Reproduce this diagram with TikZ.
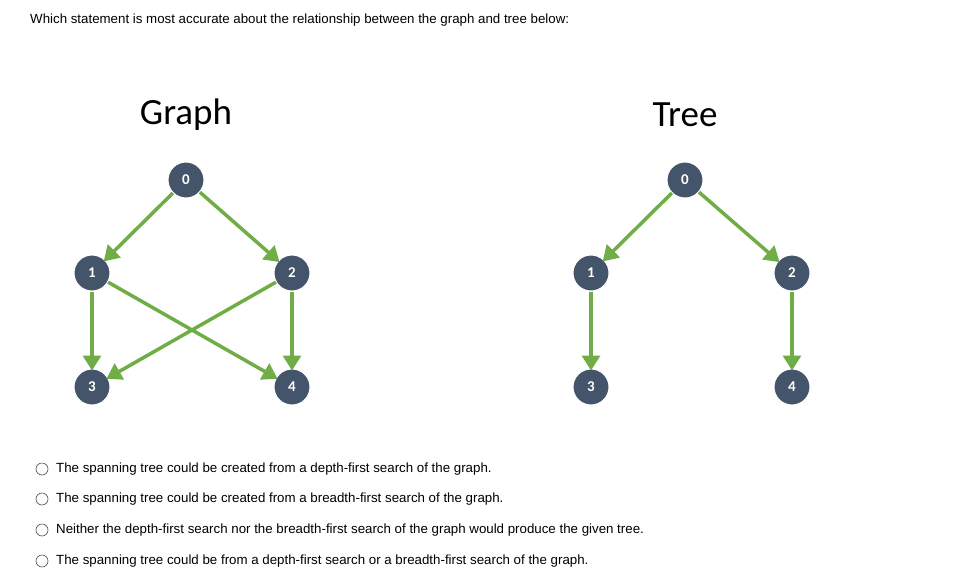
\documentclass[tikz,border=0pt]{standalone}
\usepackage{fontspec}
\setmainfont{Liberation Sans}
\newfontfamily\carl{Carlito}
\usetikzlibrary{arrows.meta}
\definecolor{nd}{HTML}{44546A}
\definecolor{gr}{HTML}{70AD47}
\begin{document}
\begin{tikzpicture}[x=1pt,y=-1pt,
  v/.style={circle,fill=nd,draw=white,line width=1pt,minimum size=36pt,inner sep=0pt,text=white,font=\carl\bfseries\fontsize{15}{15}\selectfont},
  e/.style={gr,line width=3.5pt,-{Triangle[length=15pt,width=18pt]},shorten >=-2pt},
  t/.style={anchor=west,font=\fontsize{13.3}{15}\selectfont,inner sep=0pt},
  rb/.style={circle,draw=black!70,line width=0.6pt,minimum size=12pt,inner sep=0pt}]
\useasboundingbox (0,0) rectangle (956,584);
\node[t] (q) at (30,20) {Which statement is most accurate about the relationship between the graph and tree below:};
\node[font=\carl\fontsize{37}{37}\selectfont] (tg) at (186,115) {Graph};
\node[font=\carl\fontsize{37}{37}\selectfont] (tt) at (685,115) {Tree};
\node[v] (g0) at (186,180) {0};
\node[v] (g1) at (92,273) {1};
\node[v] (g2) at (292,273) {2};
\node[v] (g3) at (92,387) {3};
\node[v] (g4) at (292,387) {4};
\node[v] (t0) at (685,180) {0};
\node[v] (t1) at (591,273) {1};
\node[v] (t2) at (792,273) {2};
\node[v] (t3) at (591,387) {3};
\node[v] (t4) at (792,387) {4};
\draw[e] (g0) -- (g1);
\draw[e] (g0) -- (g2);
\draw[e] (g1) -- (g3);
\draw[e] (g2) -- (g4);
\draw[e] (g1) -- (g4);
\draw[e] (g2) -- (g3);
\draw[e] (t0) -- (t1);
\draw[e] (t0) -- (t2);
\draw[e] (t1) -- (t3);
\draw[e] (t2) -- (t4);
\node[rb] (r1) at (42,469) {};
\node[rb] (r2) at (42,499) {};
\node[rb] (r3) at (42,530) {};
\node[rb] (r4) at (42,561) {};
\node[t] (o1) at (56,469) {The spanning tree could be created from a depth-first search of the graph.};
\node[t] (o2) at (56,499) {The spanning tree could be created from a breadth-first search of the graph.};
\node[t] (o3) at (56,530) {Neither the depth-first search nor the breadth-first search of the graph would produce the given tree.};
\node[t] (o4) at (56,561) {The spanning tree could be from a depth-first search or a breadth-first search of the graph.};
\end{tikzpicture}
\end{document}
